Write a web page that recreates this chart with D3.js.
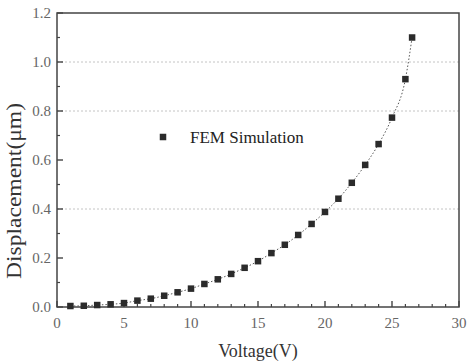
<!DOCTYPE html>
<html><head><meta charset="utf-8">
<script src="https://cdn.jsdelivr.net/npm/d3@7"></script>
<style>body{margin:0;background:#fff}svg{display:block}</style>
</head><body>
<svg id="c" width="474" height="363"></svg>
<script>
const voltage = [1,2,3,4,5,6,7,8,9,10,11,12,13,14,15,16,17,18,19,20,21,22,23,24,25,26,26.5];
const displacement = [0.004,0.005,0.008,0.011,0.016,0.026,0.034,0.046,0.060,0.075,0.094,0.113,0.135,0.160,0.187,0.220,0.254,0.294,0.339,0.388,0.442,0.507,0.580,0.665,0.773,0.930,1.100];
const xTicks = [0,5,10,15,20,25,30];
const yTicks = [0.0,0.2,0.4,0.6,0.8,1.0,1.2];
const gridValues = [0.4,0.8,1.0];
const seriesName = "FEM Simulation";

const svg = d3.select("#c");
const L=57, R=459, T=13, B=307;
const x = d3.scaleLinear().domain([0,30]).range([L,R]);
const y = d3.scaleLinear().domain([0,1.2]).range([B,T]);
const axisColor = "#444", labColor="#666";
const font = "'Liberation Serif','Times New Roman',serif";

// grid
svg.selectAll(".grid").data(gridValues).enter().append("line")
  .attr("x1",L).attr("x2",R).attr("y1",d=>y(d)).attr("y2",d=>y(d))
  .attr("stroke","#c4c4c4").attr("stroke-width",1).attr("stroke-dasharray","2,2");

// minor ticks
const xMinor = d3.range(0,31,1).filter(v=>v%5!==0);
const yMinor = d3.range(1,12,2).map(v=>v/10);
svg.selectAll(".xm").data(xMinor).enter().append("line")
  .attr("x1",d=>x(d)).attr("x2",d=>x(d)).attr("y1",B).attr("y2",B-3)
  .attr("stroke",axisColor).attr("stroke-width",1.2);
svg.selectAll(".xM").data(xTicks).enter().append("line")
  .attr("x1",d=>x(d)).attr("x2",d=>x(d)).attr("y1",B).attr("y2",B-6)
  .attr("stroke",axisColor).attr("stroke-width",1.4);
svg.selectAll(".ym").data(yMinor).enter().append("line")
  .attr("x1",L).attr("x2",L+3).attr("y1",d=>y(d)).attr("y2",d=>y(d))
  .attr("stroke",axisColor).attr("stroke-width",1.2);
svg.selectAll(".yM").data(yTicks).enter().append("line")
  .attr("x1",L).attr("x2",L+6).attr("y1",d=>y(d)).attr("y2",d=>y(d))
  .attr("stroke",axisColor).attr("stroke-width",1.4);

// frame
svg.append("rect").attr("x",L).attr("y",T).attr("width",R-L).attr("height",B-T)
  .attr("fill","none").attr("stroke",axisColor).attr("stroke-width",1.5);

// tick labels
svg.selectAll(".xl").data(xTicks).enter().append("text")
  .attr("x",d=>x(d)).attr("y",B+21).attr("text-anchor","middle")
  .attr("font-family",font).attr("font-size",15).attr("fill",labColor)
  .text(d=>d);
svg.selectAll(".yl").data(yTicks).enter().append("text")
  .attr("x",L-6).attr("y",d=>y(d)+5).attr("text-anchor","end")
  .attr("font-family",font).attr("font-size",15).attr("fill",labColor)
  .text(d=>d.toFixed(1));

// axis titles
svg.append("text").attr("x",258).attr("y",357).attr("text-anchor","middle")
  .attr("font-family",font).attr("font-size",18).attr("fill","#333").text("Voltage(V)");
svg.append("text").attr("transform","translate(21,191) rotate(-90)").attr("text-anchor","middle")
  .attr("font-family",font).attr("font-size",21).attr("fill","#333")
  .attr("textLength",176).attr("lengthAdjust","spacingAndGlyphs").text("Displacement(μm)");

// curve
const pts = voltage.map((v,i)=>[v,displacement[i]]);
const line = d3.line().x(d=>x(d[0])).y(d=>y(d[1])).curve(d3.curveMonotoneX);
svg.append("path").datum(pts).attr("d",line).attr("fill","none")
  .attr("stroke","#555").attr("stroke-width",1).attr("stroke-dasharray","1.5,2");

// markers
const s=6.5;
svg.selectAll(".pt").data(pts).enter().append("rect")
  .attr("x",d=>x(d[0])-s/2).attr("y",d=>y(d[1])-s/2).attr("width",s).attr("height",s)
  .attr("fill","#2b2b2b");

// legend
svg.append("rect").attr("x",163-3.25).attr("y",137-3.25).attr("width",s).attr("height",s).attr("fill","#2b2b2b");
svg.append("text").attr("x",190).attr("y",143).attr("font-family",font).attr("font-size",17)
  .attr("fill","#222").text(seriesName);
</script>
</body></html>
